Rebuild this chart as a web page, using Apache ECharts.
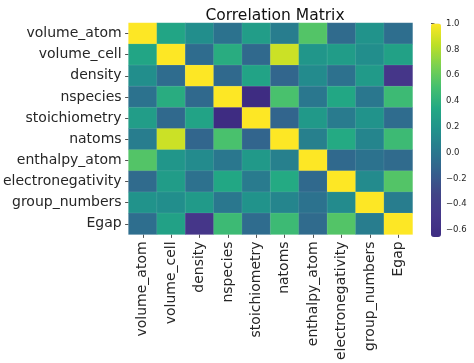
<!DOCTYPE html>
<html>
<head>
<meta charset="utf-8">
<script src="https://cdn.jsdelivr.net/npm/echarts@6/dist/echarts.min.js"></script>
<style>html,body{margin:0;padding:0;background:#fff;}#c{width:474px;height:363px;}</style>
</head>
<body>
<div id="c"></div>
<script>
const features = ['volume_atom','volume_cell','density','nspecies','stoichiometry','natoms','enthalpy_atom','electronegativity','group_numbers','Egap'];
const rowVolumeAtom       = [1.00, 0.32, 0.15, -0.03, 0.26, 0.04, 0.55, -0.08, 0.19, -0.06];
const rowVolumeCell       = [0.32, 1.00, -0.07, 0.37, -0.09, 0.87, 0.21, 0.25, 0.15, 0.29];
const rowDensity          = [0.15, -0.07, 1.00, -0.09, 0.30, -0.11, 0.13, -0.04, 0.24, -0.50];
const rowNspecies         = [-0.03, 0.37, -0.09, 1.00, -0.65, 0.52, 0.00, 0.33, 0.00, 0.47];
const rowStoichiometry    = [0.26, -0.09, 0.30, -0.65, 1.00, -0.12, 0.23, 0.03, 0.19, -0.07];
const rowNatoms           = [0.04, 0.87, -0.11, 0.52, -0.12, 1.00, 0.06, 0.35, 0.09, 0.47];
const rowEnthalpyAtom     = [0.55, 0.21, 0.13, 0.00, 0.23, 0.06, 1.00, -0.09, -0.03, -0.08];
const rowElectronegativity= [-0.08, 0.25, -0.04, 0.33, 0.03, 0.35, -0.09, 1.00, 0.13, 0.55];
const rowGroupNumbers     = [0.19, 0.15, 0.24, 0.00, 0.19, 0.09, -0.03, 0.13, 1.00, 0.04];
const rowEgap             = [-0.06, 0.29, -0.50, 0.47, -0.07, 0.47, -0.08, 0.55, 0.04, 1.00];
const colorbarTicks = [-0.6, -0.4, -0.2, 0.0, 0.2, 0.4, 0.6, 0.8, 1.0];
const vMin = -0.655, vMax = 1.0;

const rows = [rowVolumeAtom,rowVolumeCell,rowDensity,rowNspecies,rowStoichiometry,rowNatoms,rowEnthalpyAtom,rowElectronegativity,rowGroupNumbers,rowEgap];
const data = [];
rows.forEach((r, yi) => r.forEach((v, xi) => data.push([xi, yi, v])));

const palette = ['#3e2c82','#45378a','#414487','#355f8d','#2a788e','#21918c','#22a884','#44bf70','#7ad151','#bddf26','#fde725'];
const txt = '#262626';
const font = 'DejaVu Sans';

const chart = echarts.init(document.getElementById('c'));
chart.setOption({
  animation: false,
  backgroundColor: '#fff',
  textStyle: {fontFamily: font},
  title: {text: 'Correlation Matrix', left: 270, top: 3, textAlign: 'center',
    textStyle: {fontFamily: font, fontSize: 15.5, fontWeight: 'normal', color: '#111'}},
  grid: [
    {left: 128, top: 23, width: 284.5, height: 215, containLabel: false},
    {left: 431, top: 23.5, width: 10, height: 213.5, containLabel: false}
  ],
  xAxis: [
    {type: 'category', data: features, gridIndex: 0, position: 'bottom',
      axisLine: {show: false}, splitLine: {show: false},
      axisTick: {show: true, alignWithLabel: true, length: 3.5, lineStyle: {color: txt, width: 0.8}},
      axisLabel: {rotate: 90, fontSize: 14, color: txt, margin: 7, fontFamily: font}},
    {type: 'value', gridIndex: 1, show: false, min: 0, max: 1}
  ],
  yAxis: [
    {type: 'category', data: features, gridIndex: 0, inverse: true,
      axisLine: {show: false}, splitLine: {show: false},
      axisTick: {show: true, alignWithLabel: true, length: 3.5, lineStyle: {color: txt, width: 0.8}},
      axisLabel: {fontSize: 14, color: txt, margin: 7, fontFamily: font}},
    {type: 'value', gridIndex: 1, position: 'right', min: vMin, max: vMax,
      axisLine: {show: false}, splitLine: {show: false},
      axisTick: {show: true, length: 3.5, customValues: colorbarTicks, lineStyle: {color: txt, width: 0.8}},
      axisLabel: {show: true, customValues: colorbarTicks, fontSize: 8.5, color: txt, margin: 5, fontFamily: font,
        formatter: v => (v < 0 ? '\u2212' : '') + Math.abs(v).toFixed(1)}}
  ],
  visualMap: {
    type: 'continuous', min: vMin, max: vMax, calculable: false, seriesIndex: 0,
    orient: 'vertical', left: 431, top: 23.5, itemWidth: 10, itemHeight: 213.5,
    text: null, showLabel: false, padding: 0,
    inRange: {color: palette}
  },
  series: [{
    type: 'heatmap', xAxisIndex: 0, yAxisIndex: 0, data: data,
    itemStyle: {borderColor: 'rgba(255,255,255,0.18)', borderWidth: 0.5},
    emphasis: {disabled: true}
  }]
});
</script>
</body>
</html>
